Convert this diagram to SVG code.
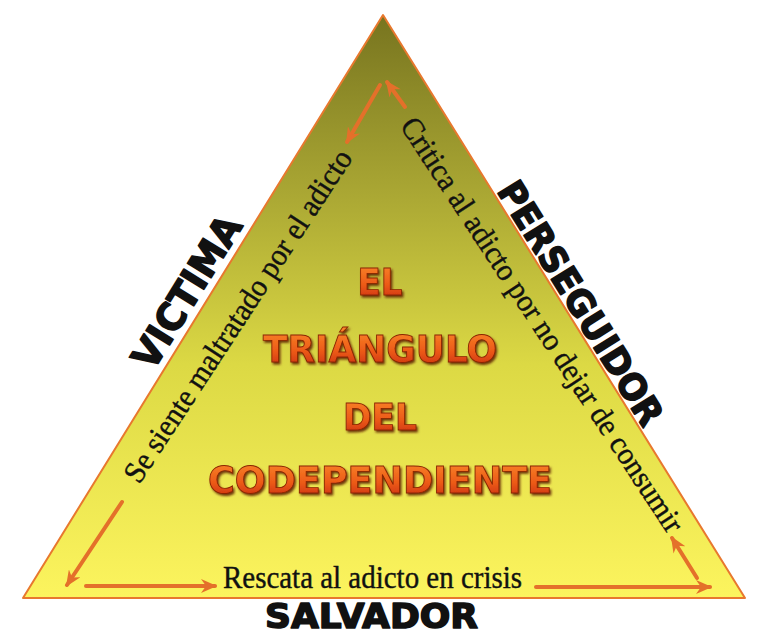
<svg xmlns="http://www.w3.org/2000/svg" width="768" height="640" viewBox="0 0 768 640">
  <defs>
    <linearGradient id="triFill" x1="0" y1="15" x2="0" y2="598" gradientUnits="userSpaceOnUse">
      <stop offset="0" stop-color="#77741f"/>
      <stop offset="0.3" stop-color="#a9a633"/>
      <stop offset="0.6" stop-color="#dcd944"/>
      <stop offset="1" stop-color="#fcf45e"/>
    </linearGradient>
    <linearGradient id="titleFill" x1="0" y1="0" x2="0" y2="1">
      <stop offset="0" stop-color="#fb8a2a"/>
      <stop offset="0.55" stop-color="#ec5a18"/>
      <stop offset="1" stop-color="#c4280a"/>
    </linearGradient>
    <filter id="shadow" x="-10%" y="-20%" width="120%" height="150%">
      <feDropShadow dx="1.5" dy="2" stdDeviation="0.8" flood-color="#5a1800" flood-opacity="0.85"/>
    </filter>
    <marker id="arrow" markerUnits="userSpaceOnUse" markerWidth="18" markerHeight="14" refX="14" refY="7" orient="auto">
      <path d="M0,0 L16,7 L0,14 L5,7 Z" fill="#e4702a"/>
    </marker>
    <style>
      .serif { font-family: "Liberation Serif", "Times New Roman", serif; font-size: 31px; fill: #111; stroke: #111; stroke-width: 0.4; }
      .role { font-family: "DejaVu Sans", "Liberation Sans", sans-serif; font-weight: bold; fill: #111; stroke: #111; stroke-width: 1.6; stroke-linejoin: round; }
      .title { font-family: "DejaVu Sans", "Liberation Sans", sans-serif; font-weight: bold; font-size: 37px; fill: url(#titleFill); stroke: #8a2404; stroke-width: 0.9; filter: url(#shadow); }
      .conn { fill: none; stroke: #e4702a; stroke-width: 4; stroke-linecap: round; marker-end: url(#arrow); }
    </style>
  </defs>

  <rect width="768" height="640" fill="#ffffff"/>

  <g id="triangle">
    <polygon points="383,15 745,598 23,598" fill="url(#triFill)" stroke="#e8782e" stroke-width="2" stroke-linejoin="round"/>
  </g>

  <g id="title" text-anchor="middle">
    <text class="title" x="380" y="295" textLength="45" lengthAdjust="spacingAndGlyphs">EL</text>
    <text class="title" x="380" y="362" textLength="234" lengthAdjust="spacingAndGlyphs">TRIÁNGULO</text>
    <text class="title" x="380" y="430" textLength="74" lengthAdjust="spacingAndGlyphs">DEL</text>
    <text class="title" x="380" y="493" textLength="344" lengthAdjust="spacingAndGlyphs">CODEPENDIENTE</text>
  </g>

  <g id="victima">
    <text class="role" font-size="38" text-anchor="middle" transform="translate(187,292) rotate(-58.3)" y="13" textLength="172" lengthAdjust="spacingAndGlyphs">VICTIMA</text>
    <text class="serif" text-anchor="middle" transform="translate(238,316) rotate(-56.8)" y="10" textLength="391" lengthAdjust="spacingAndGlyphs">Se siente maltratado por el adicto</text>
  </g>

  <g id="perseguidor">
    <text class="role" font-size="36" text-anchor="middle" transform="translate(581,303) rotate(58.2)" y="13" textLength="280" lengthAdjust="spacingAndGlyphs">PERSEGUIDOR</text>
    <text class="serif" text-anchor="middle" transform="translate(542,325) rotate(56.7)" y="10" textLength="490" lengthAdjust="spacingAndGlyphs">Critica al adicto por no dejar de consumir</text>
  </g>

  <g id="salvador">
    <text class="serif" text-anchor="middle" x="372.5" y="588" textLength="299" lengthAdjust="spacingAndGlyphs">Rescata al adicto en crisis</text>
    <text class="role" font-size="34" text-anchor="middle" x="371.5" y="628" textLength="213" lengthAdjust="spacingAndGlyphs">SALVADOR</text>
  </g>

  <g id="connectors">
    <line class="conn" x1="380" y1="85" x2="347" y2="142"/>
    <line class="conn" x1="405" y1="107" x2="387" y2="82"/>
    <line class="conn" x1="122" y1="502" x2="67" y2="585"/>
    <line class="conn" x1="86" y1="586" x2="215" y2="586"/>
    <line class="conn" x1="536" y1="587" x2="710" y2="587"/>
    <line class="conn" x1="697" y1="578" x2="672" y2="538"/>
  </g>
</svg>
